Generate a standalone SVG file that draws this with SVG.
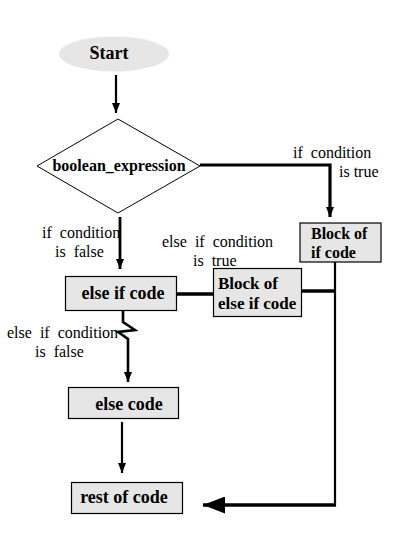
<svg xmlns="http://www.w3.org/2000/svg" width="401" height="551" viewBox="0 0 401 551">
<style>
.box{fill:#e6e6e6;stroke:#000;stroke-width:1.2}
.b{font-weight:bold;fill:#000}
.lbl{font-size:16px;fill:#000}
.ln{fill:none;stroke:#000;stroke-linejoin:miter}
</style>
<defs>
<marker id="ah" viewBox="0 0 10 8" markerWidth="10" markerHeight="8" refX="10" refY="4" orient="auto" markerUnits="userSpaceOnUse">
<path d="M0,0 L10,4 L0,8 Z" fill="#000"/>
</marker>
<marker id="bigah" viewBox="0 0 22 17" markerWidth="22" markerHeight="17" refX="22" refY="8.5" orient="auto" markerUnits="userSpaceOnUse">
<path d="M0,0 L22,8.5 L0,17 Z" fill="#000"/>
</marker>
</defs>
<rect width="401" height="551" fill="#fff"/>
<g id="connectors">
<path class="ln" d="M116,75 V113" stroke-width="2.2" marker-end="url(#ah)"/>
<path class="ln" d="M200,165 H330 V217" stroke-width="3.2" marker-end="url(#ah)"/>
<path class="ln" d="M120,217 V269" stroke-width="2.8" marker-end="url(#ah)"/>
<path class="ln" d="M177,294 H213" stroke-width="3.4"/>
<path class="ln" d="M302,291 H335" stroke-width="3.4"/>
<path class="ln" d="M335,262 V505" stroke-width="2.2"/>
<path class="ln" d="M336,505 H203" stroke-width="3.6" marker-end="url(#bigah)"/>
<path class="ln" d="M123,311 V322 L135,330 L118,332 L128,339 V382" stroke-width="2.6" marker-end="url(#ah)"/>
<path class="ln" d="M122,422 V473" stroke-width="2.2" marker-end="url(#ah)"/>
</g>
<g font-family="Liberation Serif, serif">
<g id="start">
<ellipse cx="114" cy="54" rx="55" ry="17.5" fill="#e6e6e6"/>
<text class="b" x="109" y="59" font-size="18" text-anchor="middle">Start</text>
</g>
<g id="decision">
<polygon points="37,166 118,119 200,166 118,213" fill="#fff" stroke="#000" stroke-width="1"/>
<text class="b" x="119" y="171" font-size="16" text-anchor="middle">boolean_expression</text>
</g>
<g id="if-block">
<rect class="box" x="300" y="223" width="81" height="39"/>
<text class="b" x="311" y="239" font-size="16">Block of</text>
<text class="b" x="311" y="258" font-size="16">if code</text>
</g>
<g id="elseif-code">
<rect class="box" x="65.5" y="276.5" width="111" height="34"/>
<text class="b" x="123" y="299" font-size="18" text-anchor="middle">else if code</text>
</g>
<g id="elseif-block">
<rect class="box" x="213.5" y="268.5" width="88" height="48"/>
<text class="b" x="218" y="289" font-size="17">Block of</text>
<text class="b" x="218" y="309" font-size="17">else if code</text>
</g>
<g id="else-code">
<rect class="box" x="68.5" y="387.5" width="110" height="31"/>
<text class="b" x="129" y="410" font-size="18" text-anchor="middle">else code</text>
</g>
<g id="rest">
<rect class="box" x="71.5" y="482.5" width="111" height="31"/>
<text class="b" x="124" y="503" font-size="18" text-anchor="middle">rest of code</text>
</g>
<g id="labels">
<text class="lbl" x="293" y="158" xml:space="preserve">if  condition</text>
<text class="lbl" x="339" y="177">is true</text>
<text class="lbl" x="42" y="238" xml:space="preserve">if  condition</text>
<text class="lbl" x="55" y="257" xml:space="preserve">is  false</text>
<text class="lbl" x="162" y="247" xml:space="preserve">else  if  condition</text>
<text class="lbl" x="193" y="266" xml:space="preserve">is  true</text>
<text class="lbl" x="7" y="338" xml:space="preserve">else  if  condition</text>
<text class="lbl" x="35" y="357" xml:space="preserve">is  false</text>
</g>
</g>
</svg>
